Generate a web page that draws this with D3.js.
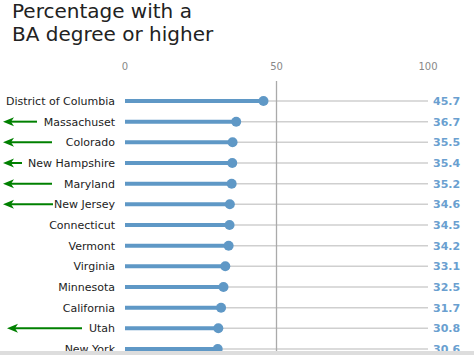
<!DOCTYPE html>
<html><head><meta charset="utf-8">
<script src="https://cdn.jsdelivr.net/npm/d3@7"></script>
<style>body{margin:0;background:#fff;overflow:hidden}</style>
</head><body><svg id="c" width="474" height="355"></svg>
<script>
const states = ["District of Columbia","Massachuset","Colorado","New Hampshire","Maryland","New Jersey","Connecticut","Vermont","Virginia","Minnesota","California","Utah","New York"];
const values = [45.7,36.7,35.5,35.4,35.2,34.6,34.5,34.2,33.1,32.5,31.7,30.8,30.6];
const ticks = [0,50,100];
// annotated rows (green arrows) and arrow spans in px
const arrowRows = ["Massachuset","Colorado","New Hampshire","Maryland","New Jersey","Utah"];
const arrowSpan = [[3,37],[3,52],[3,22],[3,52],[3,53],[7,82]];

const svg = d3.select("#c");
const font = "DejaVu Sans, sans-serif";
const x = d3.scaleLinear().domain([0,100]).range([125,428]);
const y = d3.scalePoint().domain(states).range([101,349]);

svg.append("text").attr("x",12).attr("y",18).attr("font-family",font).attr("font-size",20).attr("fill","#222").text("Percentage with a");
svg.append("text").attr("x",12).attr("y",41).attr("font-family",font).attr("font-size",20).attr("fill","#222").text("BA degree or higher");

svg.selectAll(".tk").data(ticks).join("text").attr("x",d=>x(d)).attr("y",70).attr("text-anchor","middle")
  .attr("font-family",font).attr("font-size",10).attr("fill","#888").text(d=>d);

svg.selectAll(".row").data(states).join("line").attr("x1",x(0)).attr("x2",x(100)).attr("y1",d=>y(d)).attr("y2",d=>y(d))
  .attr("stroke","#cfcfcf").attr("stroke-width",1.5);
svg.append("line").attr("x1",x(50)).attr("x2",x(50)).attr("y1",81).attr("y2",355).attr("stroke","#aaa").attr("stroke-width",1.3);

const data = states.map((s,i)=>({s,v:values[i]}));
svg.selectAll(".stem").data(data).join("line").attr("x1",x(0)).attr("x2",d=>x(d.v)).attr("y1",d=>y(d.s)).attr("y2",d=>y(d.s))
  .attr("stroke","#5f98c6").attr("stroke-width",4);
svg.selectAll(".dot").data(data).join("circle").attr("cx",d=>x(d.v)).attr("cy",d=>y(d.s)).attr("r",5).attr("fill","#5f98c6");

svg.selectAll(".lab").data(data).join("text").attr("x",115).attr("y",d=>y(d.s)+4).attr("text-anchor","end")
  .attr("font-family",font).attr("font-size",11).attr("fill","#222").text(d=>d.s);
svg.selectAll(".val").data(data).join("text").attr("x",433).attr("y",d=>y(d.s)+4)
  .attr("font-family",font).attr("font-size",11).attr("font-weight","bold").attr("fill","#6a9fd0").text(d=>d.v.toFixed(1));

const arr = svg.selectAll(".arr").data(arrowRows).join("g");
arr.append("line").attr("x1",(d,i)=>arrowSpan[i][1]).attr("x2",(d,i)=>arrowSpan[i][0]+6)
  .attr("y1",d=>y(d)).attr("y2",d=>y(d)).attr("stroke","green").attr("stroke-width",2);
arr.append("path").attr("d",(d,i)=>{const tx=arrowSpan[i][0], ty=y(d);
  return `M${tx},${ty} L${tx+11},${ty-4.5} L${tx+8},${ty} L${tx+11},${ty+4.5} Z`;}).attr("fill","green");

svg.append("rect").attr("x",0).attr("y",351).attr("width",474).attr("height",4).attr("fill","#ddd");
</script></body></html>
